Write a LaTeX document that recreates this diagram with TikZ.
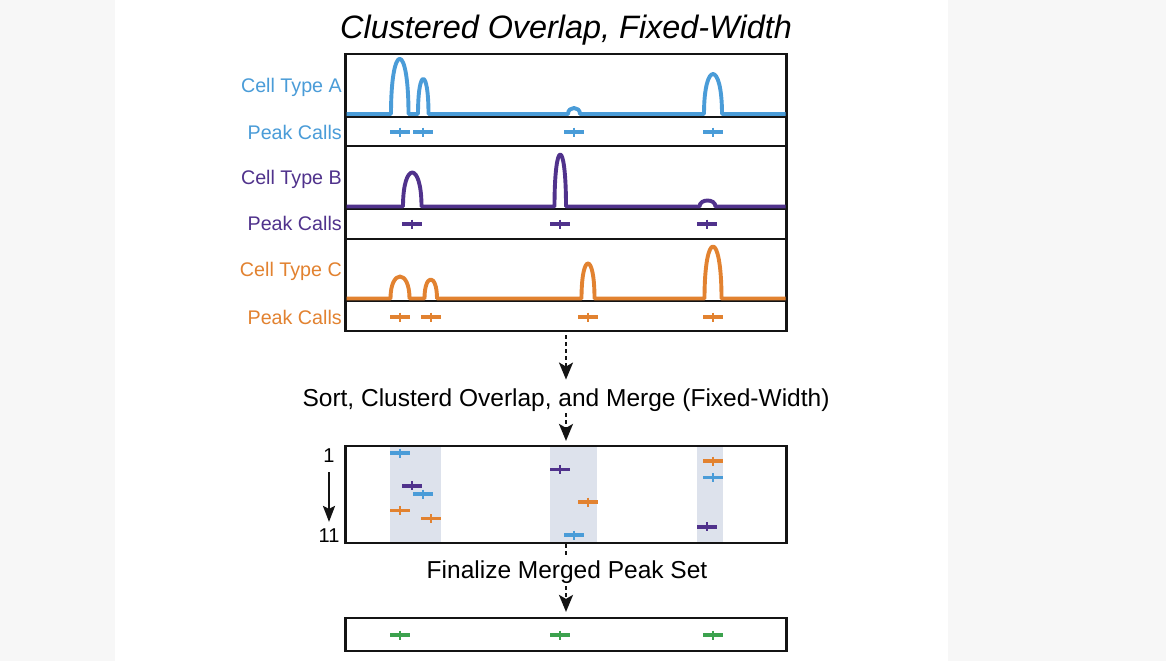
\documentclass[tikz,border=0pt]{standalone}
\usepackage{fontspec}
\setmainfont{Liberation Sans}
\usetikzlibrary{arrows.meta}
\definecolor{cA}{RGB}{74,156,216}
\definecolor{cB}{RGB}{80,50,140}
\definecolor{cC}{RGB}{226,130,48}
\definecolor{cG}{RGB}{60,162,78}
\definecolor{bandc}{RGB}{221,226,236}
\definecolor{bgc}{RGB}{247,247,247}
\definecolor{ink}{RGB}{20,20,20}
\begin{document}
\begin{tikzpicture}[x=1pt,y=-1pt,
  box/.style={draw=ink, line width=2.2pt, inner sep=0pt, minimum width=441pt},
  lbl/.style={anchor=base east, inner sep=0pt, font=\fontsize{19.7}{22}\selectfont},
  bigtxt/.style={anchor=base, inner sep=0pt, font=\fontsize{24.5}{28}\selectfont},
  trace/.style={line width=3.9pt, line join=round},
  divider/.style={draw=ink, line width=2pt},
  dotarrow/.style={draw=ink, line width=2pt, dash pattern=on 4pt off 3pt},
  headarrow/.style={-{Stealth[length=17pt,width=14pt,inset=4pt]}},
  pkmark/.pic={\draw[line width=3.6pt] (-10,0)--(10,0); \draw[line width=1.8pt] (0,-4.5)--(0,4.5);}
]
\useasboundingbox (0,0) rectangle (1166,661);
\fill[bgc] (0,0) rectangle (1166,661);
\fill[white] (115,0) rectangle (948,661);

% title
\node[anchor=base, inner sep=0pt, font=\fontsize{32.4}{36}\selectfont\itshape] (title) at (566,38) {Clustered Overlap, Fixed-Width};

% top box
\node[box, minimum height=277pt] (box1) at (566,192.5) {};
\draw[divider] (345.5,117) -- (786.5,117);
\draw[divider] (345.5,146) -- (786.5,146);
\draw[divider] (345.5,209) -- (786.5,209);
\draw[divider] (345.5,239) -- (786.5,239);
\draw[divider] (345.5,301) -- (786.5,301);

% labels
\node[lbl, text=cA] (la) at (342,92) {Cell Type A};
\node[lbl, text=cA] (pa) at (342,139.5) {Peak Calls};
\node[lbl, text=cB] (lb) at (342,184) {Cell Type B};
\node[lbl, text=cB] (pb) at (342,230) {Peak Calls};
\node[lbl, text=cC] (lc) at (342,276.5) {Cell Type C};
\node[lbl, text=cC] (pc) at (342,324) {Peak Calls};

% traces
\draw[trace, cA] (346.5,114) -- (391,114)
  .. controls (391,40.5) and (408.5,40.5) .. (408.5,114) -- (418,114)
  .. controls (418,67.3) and (428.5,67.3) .. (428.5,114) -- (568,114)
  .. controls (568,106) and (580,106) .. (580,114) -- (704,114)
  .. controls (704,60.7) and (722,60.7) .. (722,114) -- (785.5,114);
\draw[trace, cB] (346.5,206.5) -- (403,206.5)
  .. controls (403,161.2) and (421.5,161.2) .. (421.5,206.5) -- (554.5,206.5)
  .. controls (554.5,137.2) and (566,137.2) .. (566,206.5) -- (699.5,206.5)
  .. controls (699.5,198.5) and (715.5,198.5) .. (715.5,206.5) -- (785.5,206.5);
\draw[trace, cC] (346.5,298.5) -- (390.5,298.5)
  .. controls (390.5,269.2) and (409.5,269.2) .. (409.5,298.5) -- (424.5,298.5)
  .. controls (424.5,273.2) and (437,273.2) .. (437,298.5) -- (581.5,298.5)
  .. controls (581.5,251.8) and (594.5,251.8) .. (594.5,298.5) -- (704.5,298.5)
  .. controls (704.5,229.2) and (721.5,229.2) .. (721.5,298.5) -- (785.5,298.5);

% peak calls
\foreach \x in {400,423,574,713} \pic[color=cA] at (\x,132) {pkmark};
\foreach \x in {412,560,707} \pic[color=cB] at (\x,224) {pkmark};
\foreach \x in {400,431,588,713} \pic[color=cC] at (\x,317) {pkmark};

% sort text and arrows
\node[bigtxt] (sort) at (566,406) {Sort, Clusterd Overlap, and Merge (Fixed-Width)};
\draw[dotarrow, headarrow, shorten <=3pt, shorten >=8.5pt] (box1.south) -- (sort.north);

% ranked box
\fill[bandc] (390,446) rectangle (441,543);
\fill[bandc] (550,446) rectangle (597,543);
\fill[bandc] (697,446) rectangle (723,543);
\node[box, minimum height=97pt] (box2) at (566,494.5) {};
\draw[dotarrow, headarrow, shorten <=2pt, shorten >=4pt] (sort.south) -- (box2.north);

\pic[color=cA] at (400,453) {pkmark};
\pic[color=cC] at (713,461.2) {pkmark};
\pic[color=cB] at (560,469.4) {pkmark};
\pic[color=cA] at (713,477.6) {pkmark};
\pic[color=cB] at (412,485.8) {pkmark};
\pic[color=cA] at (423,494) {pkmark};
\pic[color=cC] at (588,502.2) {pkmark};
\pic[color=cC] at (400,510.4) {pkmark};
\pic[color=cC] at (431,518.6) {pkmark};
\pic[color=cB] at (707,526.8) {pkmark};
\pic[color=cA] at (574,535) {pkmark};

\node[inner sep=0pt, font=\fontsize{20}{24}\selectfont] (n1) at (329,456) {1};
\node[inner sep=0pt, font=\fontsize{20}{24}\selectfont] (n11) at (329,536) {11};
\draw[line width=2.5pt, draw=ink, -{Stealth[length=16pt,width=12pt,inset=3pt]}, shorten <=9pt, shorten >=7pt] (n1.south) -- (n11.north);

% finalize
\node[bigtxt] (fin) at (567,578) {Finalize Merged Peak Set};
\node[box, minimum height=33pt] (box3) at (566,634.5) {};
\draw[dotarrow, shorten >=3.5pt] (box2.south) -- (box2.south |- fin.north);
\draw[dotarrow, headarrow, shorten <=3pt, shorten >=5pt] (box2.south |- fin.south) -- (box3.north);
\foreach \x in {400,560,713} \pic[color=cG] at (\x,635) {pkmark};
\end{tikzpicture}
\end{document}
